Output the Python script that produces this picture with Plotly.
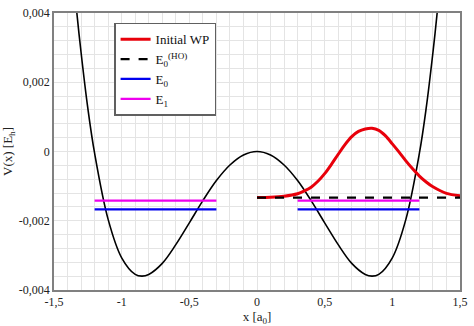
import plotly.graph_objects as go

# Double-well potential V(x) in Hartree
x_pot = [-1.4, -1.34, -1.3, -1.25, -1.2, -1.1, -1.0, -0.9, -0.85, -0.8, -0.7, -0.6, -0.5, -0.4, -0.3, -0.2, -0.1,
         0.0, 0.1, 0.2, 0.3, 0.4, 0.5, 0.6, 0.7, 0.8, 0.85, 0.9, 1.0, 1.1, 1.2, 1.25, 1.3, 1.34, 1.4]
v_pot = [0.00696, 0.00434, 0.00286, 0.00125, -0.00005, -0.00196, -0.00307, -0.00355, -0.00360, -0.00355, -0.00323,
         -0.00269, -0.00206, -0.00142, -0.00084, -0.00039, -0.00010,
         0.0, -0.00010, -0.00039, -0.00084, -0.00142, -0.00206, -0.00269, -0.00323, -0.00355, -0.00360,
         -0.00355, -0.00307, -0.00196, -0.00005, 0.00125, 0.00286, 0.00434, 0.00696]

# Initial wave packet (offset by the harmonic ground-state energy)
x_wp = [0.0, 0.1, 0.2, 0.3, 0.35, 0.4, 0.45, 0.5, 0.55, 0.6, 0.65, 0.7, 0.75, 0.8, 0.85, 0.9, 0.95,
        1.0, 1.05, 1.1, 1.15, 1.2, 1.25, 1.3, 1.4, 1.5]
v_wp = [-0.00133, -0.00132, -0.00129, -0.00122, -0.00114, -0.00103, -0.00086, -0.00064, -0.00037, -0.00008,
        0.00020, 0.00043, 0.00058, 0.00065, 0.00067, 0.00061, 0.00045,
        0.00022, -0.00002, -0.00027, -0.00050, -0.00071, -0.00088, -0.00102, -0.00121, -0.00128]

# Energy levels
e0_ho = -0.00133
e0 = -0.00167
e1 = -0.00142
ho_span = [0.0, 1.5]
left_span = [-1.2, -0.3]
right_span = [0.3, 1.2]

FONT = "Liberation Serif"

fig = go.Figure()

fig.add_trace(go.Scatter(x=x_pot, y=v_pot, mode="lines", line=dict(color="black", width=1.6, shape="spline"),
                         showlegend=False, hoverinfo="skip"))
fig.add_trace(go.Scatter(x=x_wp, y=v_wp, mode="lines", name="Initial WP",
                         line=dict(color="#e8000b", width=3, shape="spline", smoothing=0.8)))
fig.add_trace(go.Scatter(x=ho_span, y=[e0_ho, e0_ho], mode="lines", name="E<sub>0</sub><sup>(HO)</sup>",
                         line=dict(color="black", width=2.2, dash="dash")))
fig.add_trace(go.Scatter(x=left_span + [None] + right_span, y=[e0, e0, None, e0, e0], mode="lines",
                         name="E<sub>0</sub>", line=dict(color="#0000ee", width=2.2)))
fig.add_trace(go.Scatter(x=left_span + [None] + right_span, y=[e1, e1, None, e1, e1], mode="lines",
                         name="E<sub>1</sub>", line=dict(color="#ee00ee", width=2.2)))

grid = "#e4e4e4"
frame = "#808080"

fig.update_layout(
    width=474, height=326,
    margin=dict(l=52, r=9, t=6, b=31),
    paper_bgcolor="white", plot_bgcolor="white",
    font=dict(family=FONT, size=12, color="#222"),
    showlegend=True,
    legend=dict(x=0.148, y=0.965, xanchor="left", yanchor="top",
                bgcolor="white", bordercolor="#606060", borderwidth=1.5,
                font=dict(family=FONT, size=13, color="#111"),
                tracegroupgap=0, itemwidth=30),
)

fig.update_xaxes(
    range=[-1.5, 1.5], tickvals=[-1.5, -1, -0.5, 0, 0.5, 1, 1.5],
    ticktext=["-1,5", "-1", "-0,5", "0", "0,5", "1", "1,5"],
    showgrid=True, gridcolor=grid, gridwidth=1,
    minor=dict(dtick=0.1, showgrid=True, gridcolor=grid, gridwidth=1),
    zeroline=False, showline=True, linecolor=frame, linewidth=1.5, mirror=True,
    ticks="", ticklen=0,
    title=dict(text="x [a<sub>0</sub>]", standoff=2, font=dict(family=FONT, size=13)),
)
fig.update_yaxes(
    range=[-0.004, 0.004], tickvals=[-0.004, -0.002, 0, 0.002, 0.004],
    ticktext=["-0,004", "-0,002", "0", "0,002", "0,004"],
    showgrid=True, gridcolor=grid, gridwidth=1,
    minor=dict(dtick=0.0004, showgrid=True, gridcolor=grid, gridwidth=1),
    zeroline=False, showline=True, linecolor=frame, linewidth=1.5, mirror=True,
    ticks="", ticklen=0,
    title=dict(text="V(x) [E<sub>h</sub>]", standoff=4, font=dict(family=FONT, size=13)),
)

fig.write_html("out.html")
